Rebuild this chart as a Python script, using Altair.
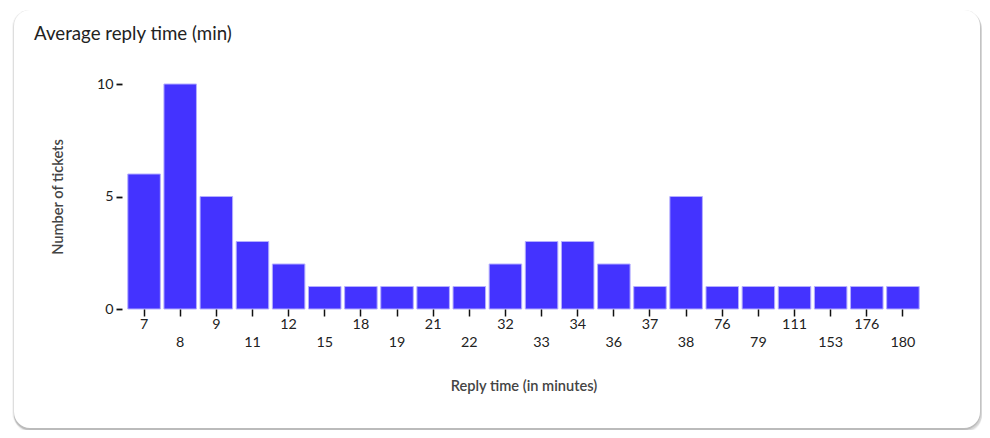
import altair as alt
import pandas as pd

reply_minutes = ["7", "8", "9", "11", "12", "15", "18", "19", "21", "22", "32",
                 "33", "34", "36", "37", "38", "76", "79", "111", "153", "176", "180"]
ticket_counts = [6, 10, 5, 3, 2, 1, 1, 1, 1, 1, 2, 3, 3, 2, 1, 5, 1, 1, 1, 1, 1, 1]
y_ticks = [0, 5, 10]

df = pd.DataFrame({"minutes": reply_minutes, "tickets": ticket_counts})
lower_labels = reply_minutes[1::2]
test_expr = "indexof(" + str(lower_labels) + ", datum.value) >= 0"

W, H = 795, 225
FONT = "Lato"
one = alt.Data(values=[{}])

# card shadow layers + card
shadows = []
for dx, dy, op in [(1, 4, 0.04), (1, 3, 0.05), (1, 2, 0.07), (0, 1, 0.09), (-1, 1, 0.04)]:
    shadows.append(
        alt.Chart(one).mark_rect(cornerRadius=17, fill="#000", opacity=op).encode(
            x=alt.value(-112 + dx - 1), x2=alt.value(854 + dx + 1),
            y=alt.value(-74 + dy - 1), y2=alt.value(344 + dy + 1))
    )
card = alt.Chart(one).mark_rect(cornerRadius=16, fill="white").encode(
    x=alt.value(-112), x2=alt.value(854), y=alt.value(-74), y2=alt.value(344))

title = alt.Chart(one).mark_text(
    text="Average reply time (min)", align="left", baseline="middle",
    font=FONT, fontSize=18.7, color="#222").encode(
    x=alt.value(-92), y=alt.value(-50))

bars = alt.Chart(df).mark_bar(
    color="#4433ff", stroke="#b4aeff", strokeWidth=1).encode(
    x=alt.X("minutes:N", sort=reply_minutes,
            scale=alt.Scale(paddingInner=0.1, paddingOuter=0.05),
            axis=alt.Axis(
                title="Reply time (in minutes)", labelAngle=0, domain=False,
                zindex=2,
                tickSize=7, tickWidth=1.5, tickColor="#111",
                labelFont=FONT, labelFontSize=14.3, labelColor="#222",
                labelOverlap=False, labelBaseline="top",
                labelPadding={"condition": {"test": test_expr, "value": 19}, "value": 1.5},
                titleFont=FONT, titleFontSize=14.6, titleFontWeight=600,
                titleColor="#444", titleBaseline="middle", titleY=77)),
    y=alt.Y("tickets:Q", scale=alt.Scale(domain=[0, 10], nice=False),
            axis=alt.Axis(
                title="Number of tickets", values=y_ticks, domain=False, grid=False,
                zindex=2,
                offset=4, tickSize=6, tickWidth=1.8, tickColor="#111",
                labelFont=FONT, labelFontSize=14.3, labelColor="#222", labelPadding=3,
                titleFont=FONT, titleFontSize=14.6, titleFontWeight=600,
                titleColor="#444", titleX=-64, titleBaseline="middle")),
)

chart = alt.layer(*shadows, card, title, bars).properties(
    width=W, height=H,
    autosize=alt.AutoSizeParams(type="none"),
    padding={"left": 118, "top": 76, "right": 61, "bottom": 121},
).configure_view(stroke=None).configure(background="white")

chart.save("out.html", embed_options={"renderer": "svg", "actions": False})
